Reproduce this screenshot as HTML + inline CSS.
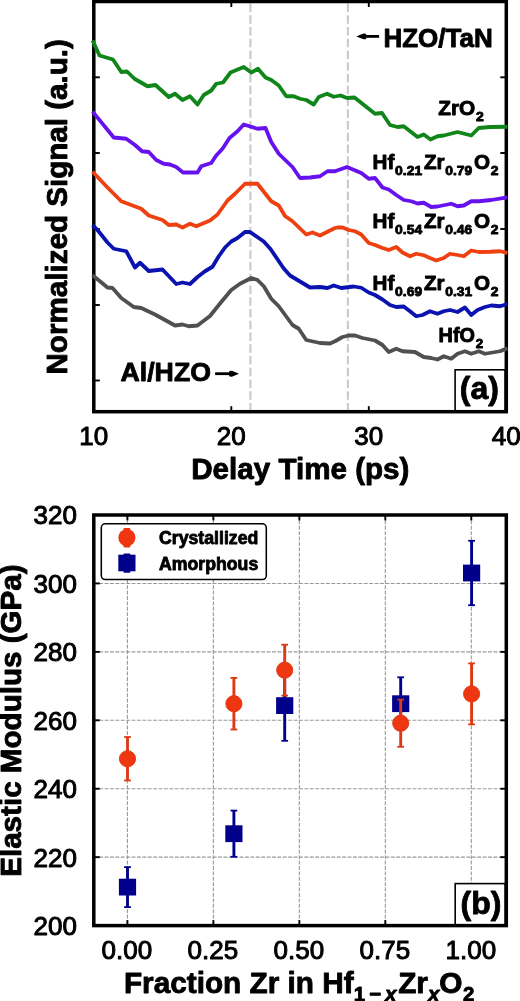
<!DOCTYPE html>
<html lang="en">
<head>
<meta charset="utf-8">
<title>Figure: normalized signal vs delay time and elastic modulus vs Zr fraction</title>
<style>
html,body{margin:0;padding:0;background:#fff;}
body{width:520px;height:1001px;overflow:hidden;}
svg{display:block;}
svg text{font-family:"Liberation Sans", sans-serif;fill:#000;stroke:#000;stroke-width:0.85px;stroke-linejoin:round;}
svg text.r{stroke-width:1.0px;}
</style>
</head>
<body>
<svg width="520" height="1001" viewBox="0 0 520 1001">
<rect x="0" y="0" width="520" height="1001" fill="#fff"/>
<g id="panel-a">
<line x1="250.4" y1="3.5" x2="250.4" y2="410" stroke="#cbcbcb" stroke-width="2.2" stroke-dasharray="8.45 3.3"/>
<line x1="347.9" y1="3.5" x2="347.9" y2="410" stroke="#cbcbcb" stroke-width="2.2" stroke-dasharray="8.45 3.3"/>
<line x1="93.8" y1="77.3" x2="99.8" y2="77.3" stroke="#000" stroke-width="1.9"/>
<line x1="506.3" y1="77.3" x2="500.3" y2="77.3" stroke="#000" stroke-width="1.9"/>
<line x1="93.8" y1="153.0" x2="99.8" y2="153.0" stroke="#000" stroke-width="1.9"/>
<line x1="506.3" y1="153.0" x2="500.3" y2="153.0" stroke="#000" stroke-width="1.9"/>
<line x1="93.8" y1="229.0" x2="99.8" y2="229.0" stroke="#000" stroke-width="1.9"/>
<line x1="506.3" y1="229.0" x2="500.3" y2="229.0" stroke="#000" stroke-width="1.9"/>
<line x1="93.8" y1="305.0" x2="99.8" y2="305.0" stroke="#000" stroke-width="1.9"/>
<line x1="506.3" y1="305.0" x2="500.3" y2="305.0" stroke="#000" stroke-width="1.9"/>
<line x1="93.8" y1="380.5" x2="99.8" y2="380.5" stroke="#000" stroke-width="1.9"/>
<line x1="506.3" y1="380.5" x2="500.3" y2="380.5" stroke="#000" stroke-width="1.9"/>
<line x1="231.3" y1="411.7" x2="231.3" y2="406.2" stroke="#000" stroke-width="1.9"/>
<line x1="231.3" y1="1.5" x2="231.3" y2="7.0" stroke="#000" stroke-width="1.9"/>
<line x1="368.8" y1="411.7" x2="368.8" y2="406.2" stroke="#000" stroke-width="1.9"/>
<line x1="368.8" y1="1.5" x2="368.8" y2="7.0" stroke="#000" stroke-width="1.9"/>
<rect x="455.1" y="369.8" width="50" height="41.8" fill="#fff" stroke="#000" stroke-width="1.6"/>
<rect x="93.8" y="1.5" width="412.5" height="410.2" fill="none" stroke="#000" stroke-width="3.5"/>
<polyline fill="none" stroke="#10851a" stroke-width="3.8" stroke-linejoin="round" stroke-linecap="butt" points="92.60,40.50 99.50,55.50 113.00,59.50 121.25,72.00 127.00,71.50 134.50,78.75 147.50,86.25 155.50,85.00 168.75,97.00 175.00,93.75 182.50,100.00 190.00,96.25 197.50,104.50 203.75,95.00 211.25,90.50 216.25,83.75 223.00,82.50 230.50,72.50 243.75,67.00 251.25,72.50 258.00,68.75 265.50,77.50 271.25,80.00 278.75,85.50 286.25,96.25 293.75,96.25 300.00,98.75 306.25,100.00 313.75,104.50 318.75,97.00 327.00,93.75 333.75,96.75 340.50,95.50 347.00,98.00 354.50,97.50 375.00,113.75 382.00,113.00 390.00,125.00 397.50,127.00 403.75,126.25 417.50,137.00 423.75,134.50 430.50,139.50 437.50,136.25 443.75,135.50 457.50,132.00 471.25,135.50 478.75,128.00 490.00,127.00 507.40,126.73"/>
<polyline fill="none" stroke="#6512ee" stroke-width="3.8" stroke-linejoin="round" stroke-linecap="butt" points="92.60,111.59 113.75,137.50 126.25,138.75 135.00,145.00 142.00,151.25 148.75,152.00 156.25,160.00 163.75,163.75 170.00,164.50 176.25,167.00 183.00,172.50 197.50,172.50 201.25,166.25 211.25,163.00 216.25,155.50 222.50,148.75 229.50,138.00 237.50,131.25 243.75,124.50 257.50,128.75 265.50,128.00 271.25,142.00 278.75,153.75 292.50,167.00 300.00,178.00 310.00,177.50 320.00,176.25 327.50,171.25 335.00,171.25 347.00,167.00 361.25,173.00 368.75,178.75 375.00,178.00 382.50,187.50 388.75,189.50 396.25,195.00 403.75,200.00 411.25,201.25 417.50,203.50 423.75,202.75 431.25,207.00 437.50,206.50 451.25,203.75 457.50,206.25 463.75,205.50 471.25,201.25 478.75,201.25 491.25,200.00 507.40,197.26"/>
<polyline fill="none" stroke="#ee4010" stroke-width="3.8" stroke-linejoin="round" stroke-linecap="butt" points="92.60,171.79 107.50,187.50 121.25,201.25 141.25,208.75 148.75,215.50 162.50,220.00 168.75,225.00 176.25,224.50 182.50,227.50 190.00,223.75 196.25,226.25 210.00,220.50 217.50,214.50 227.50,200.50 235.00,193.75 245.00,183.75 257.50,183.75 271.25,201.25 278.75,205.50 285.00,216.00 292.50,221.25 306.25,234.50 312.50,232.50 320.00,235.50 335.00,228.00 337.50,227.50 342.50,227.50 348.75,230.00 355.00,231.25 361.25,234.50 368.75,243.00 375.00,245.00 382.50,248.00 388.75,250.00 396.25,247.00 402.50,252.50 410.00,256.25 416.25,253.75 423.75,255.25 430.00,258.00 436.25,260.50 443.75,258.00 450.00,253.75 457.50,255.00 463.75,256.25 471.25,250.50 478.75,252.00 490.00,251.75 500.00,251.25 507.40,252.79"/>
<polyline fill="none" stroke="#0a12b0" stroke-width="3.8" stroke-linejoin="round" stroke-linecap="butt" points="92.60,225.10 97.50,230.00 107.50,242.50 113.75,248.75 126.25,251.25 135.00,267.50 140.00,262.75 148.75,271.00 162.50,269.50 176.25,284.00 182.50,282.50 190.00,284.00 197.50,277.00 205.00,271.25 212.50,266.75 218.75,256.25 225.00,247.50 231.25,241.50 237.50,238.00 245.00,232.00 250.00,232.00 263.75,241.50 270.50,249.00 283.75,268.50 290.00,275.50 303.75,283.75 310.00,287.50 320.00,287.00 327.50,288.00 333.75,285.50 341.25,288.00 353.75,286.50 361.25,287.75 368.75,292.50 375.00,295.00 382.50,299.50 390.00,305.00 396.25,307.00 403.75,306.50 410.00,311.25 416.25,316.25 422.50,315.00 430.00,311.25 437.50,313.75 443.75,311.25 450.00,310.00 457.50,312.00 465.00,307.50 471.25,315.00 477.50,310.00 485.00,307.00 491.25,305.50 500.00,306.25 507.40,304.09"/>
<polyline fill="none" stroke="#505050" stroke-width="3.8" stroke-linejoin="round" stroke-linecap="butt" points="92.60,275.31 107.50,287.50 112.50,288.00 121.25,298.00 133.75,307.00 141.25,308.00 155.00,314.50 175.00,325.50 182.50,324.50 188.75,326.25 197.50,325.50 210.00,316.00 221.25,302.00 231.25,290.00 240.00,283.75 251.25,278.00 257.50,280.00 263.75,286.25 271.25,298.75 278.75,306.25 292.50,325.00 298.75,328.75 306.25,340.00 320.00,343.00 330.00,343.50 335.00,341.25 342.50,337.00 348.75,335.50 355.00,335.50 362.50,338.00 375.00,340.50 382.50,345.00 388.75,352.00 396.25,348.75 402.50,351.25 415.00,352.00 423.75,357.00 431.25,358.00 437.50,359.50 443.75,356.25 451.25,358.75 457.50,353.75 465.00,351.25 471.25,353.75 478.75,351.25 485.00,353.75 492.50,352.50 500.00,351.25 507.40,348.17"/>
</g>
<text x="93.8" y="445.3" font-size="26" font-weight="normal" text-anchor="middle" class="r">10</text>
<text x="231.3" y="445.3" font-size="26" font-weight="normal" text-anchor="middle" class="r">20</text>
<text x="368.8" y="445.3" font-size="26" font-weight="normal" text-anchor="middle" class="r">30</text>
<text x="506.3" y="445.3" font-size="26" font-weight="normal" text-anchor="middle" class="r">40</text>
<text x="300.3" y="478.8" font-size="29.6" font-weight="bold" text-anchor="middle">Delay Time (ps)</text>
<text transform="translate(66.6,374.5) rotate(-90)" font-size="29.6" font-weight="bold">Normalized Signal (a.u.)</text>
<text x="383.4" y="47" font-size="26" font-weight="bold" text-anchor="start">HZO/TaN</text>
<text x="120.5" y="381.0" font-size="26.7" font-weight="bold" text-anchor="start">Al/HZO</text>
<g stroke="#000" stroke-width="2.8" fill="#000">
<line x1="364.5" y1="36.4" x2="379.1" y2="36.4"/><path d="M356.3 36.4 L362.8 33.7 Q365.6 33.2 366.3 34.4 L365.6 36.4 L366.3 38.4 Q365.6 39.6 362.8 39.1 Z" stroke="none"/>
<line x1="215.1" y1="373.7" x2="231" y2="373.7"/><path d="M239 373.7 L232.5 370.9 Q229.7 370.4 229 371.6 L229.7 373.7 L229 375.8 Q229.7 377 232.5 376.5 Z" stroke="none"/>
</g>
<text x="438.2" y="115.2" font-size="19.6" font-weight="bold" textLength="45.5" lengthAdjust="spacingAndGlyphs">ZrO<tspan dy="6.2" dx="0.7" font-size="13.2">2</tspan></text>
<text x="372.6" y="168.6" font-size="19.6" font-weight="bold" textLength="126" lengthAdjust="spacingAndGlyphs">Hf<tspan dy="6.2" dx="0.7" font-size="13.2">0.21</tspan><tspan dy="-6.2" dx="1.7">Zr</tspan><tspan dy="6.2" dx="0.7" font-size="13.2">0.79</tspan><tspan dy="-6.2" dx="1.7">O</tspan><tspan dy="6.2" dx="0.7" font-size="13.2">2</tspan></text>
<text x="372.6" y="228.1" font-size="19.6" font-weight="bold" textLength="126" lengthAdjust="spacingAndGlyphs">Hf<tspan dy="6.2" dx="0.7" font-size="13.2">0.54</tspan><tspan dy="-6.2" dx="1.7">Zr</tspan><tspan dy="6.2" dx="0.7" font-size="13.2">0.46</tspan><tspan dy="-6.2" dx="1.7">O</tspan><tspan dy="6.2" dx="0.7" font-size="13.2">2</tspan></text>
<text x="372.6" y="289.7" font-size="19.6" font-weight="bold" textLength="126" lengthAdjust="spacingAndGlyphs">Hf<tspan dy="6.2" dx="0.7" font-size="13.2">0.69</tspan><tspan dy="-6.2" dx="1.7">Zr</tspan><tspan dy="6.2" dx="0.7" font-size="13.2">0.31</tspan><tspan dy="-6.2" dx="1.7">O</tspan><tspan dy="6.2" dx="0.7" font-size="13.2">2</tspan></text>
<text x="438.6" y="342.2" font-size="19.6" font-weight="bold" textLength="44.5" lengthAdjust="spacingAndGlyphs">HfO<tspan dy="6.2" dx="0.7" font-size="13.2">2</tspan></text>
<text x="479.4" y="399.2" font-size="32" font-weight="bold" text-anchor="middle">(a)</text>
<g id="panel-b">
<line x1="127.40" y1="515.0" x2="127.40" y2="925.6" stroke="#999999" stroke-width="1.1" stroke-dasharray="3.9 1.5"/>
<line x1="213.38" y1="515.0" x2="213.38" y2="925.6" stroke="#999999" stroke-width="1.1" stroke-dasharray="3.9 1.5"/>
<line x1="299.35" y1="515.0" x2="299.35" y2="925.6" stroke="#999999" stroke-width="1.1" stroke-dasharray="3.9 1.5"/>
<line x1="385.32" y1="515.0" x2="385.32" y2="925.6" stroke="#999999" stroke-width="1.1" stroke-dasharray="3.9 1.5"/>
<line x1="471.30" y1="515.0" x2="471.30" y2="925.6" stroke="#999999" stroke-width="1.1" stroke-dasharray="3.9 1.5"/>
<line x1="93.8" y1="857.17" x2="506.3" y2="857.17" stroke="#999999" stroke-width="1.1" stroke-dasharray="3.9 1.5"/>
<line x1="93.8" y1="788.73" x2="506.3" y2="788.73" stroke="#999999" stroke-width="1.1" stroke-dasharray="3.9 1.5"/>
<line x1="93.8" y1="720.30" x2="506.3" y2="720.30" stroke="#999999" stroke-width="1.1" stroke-dasharray="3.9 1.5"/>
<line x1="93.8" y1="651.87" x2="506.3" y2="651.87" stroke="#999999" stroke-width="1.1" stroke-dasharray="3.9 1.5"/>
<line x1="93.8" y1="583.43" x2="506.3" y2="583.43" stroke="#999999" stroke-width="1.1" stroke-dasharray="3.9 1.5"/>
<line x1="127.50" y1="867.10" x2="127.50" y2="907.10" stroke="#00008b" stroke-width="2.9"/>
<line x1="124.10" y1="867.10" x2="130.90" y2="867.10" stroke="#00008b" stroke-width="1.8"/>
<line x1="124.10" y1="907.10" x2="130.90" y2="907.10" stroke="#00008b" stroke-width="1.8"/>
<rect x="118.90" y="878.70" width="17.2" height="16.8" fill="#00008b"/>
<line x1="233.90" y1="810.60" x2="233.90" y2="856.80" stroke="#00008b" stroke-width="2.9"/>
<line x1="230.50" y1="810.60" x2="237.30" y2="810.60" stroke="#00008b" stroke-width="1.8"/>
<line x1="230.50" y1="856.80" x2="237.30" y2="856.80" stroke="#00008b" stroke-width="1.8"/>
<rect x="225.30" y="825.30" width="17.2" height="16.8" fill="#00008b"/>
<line x1="284.70" y1="670.40" x2="284.70" y2="740.80" stroke="#00008b" stroke-width="2.9"/>
<line x1="281.30" y1="670.40" x2="288.10" y2="670.40" stroke="#00008b" stroke-width="1.8"/>
<line x1="281.30" y1="740.80" x2="288.10" y2="740.80" stroke="#00008b" stroke-width="1.8"/>
<rect x="276.10" y="697.20" width="17.2" height="16.8" fill="#00008b"/>
<line x1="400.70" y1="677.30" x2="400.70" y2="730.10" stroke="#00008b" stroke-width="2.9"/>
<line x1="397.30" y1="677.30" x2="404.10" y2="677.30" stroke="#00008b" stroke-width="1.8"/>
<line x1="397.30" y1="730.10" x2="404.10" y2="730.10" stroke="#00008b" stroke-width="1.8"/>
<rect x="392.10" y="695.30" width="17.2" height="16.8" fill="#00008b"/>
<line x1="471.60" y1="540.80" x2="471.60" y2="605.20" stroke="#00008b" stroke-width="2.9"/>
<line x1="468.20" y1="540.80" x2="475.00" y2="540.80" stroke="#00008b" stroke-width="1.8"/>
<line x1="468.20" y1="605.20" x2="475.00" y2="605.20" stroke="#00008b" stroke-width="1.8"/>
<rect x="463.00" y="564.60" width="17.2" height="16.8" fill="#00008b"/>
<line x1="127.50" y1="737.05" x2="127.50" y2="780.45" stroke="#dc3a14" stroke-width="2.9"/>
<line x1="124.10" y1="737.05" x2="130.90" y2="737.05" stroke="#dc3a14" stroke-width="1.8"/>
<line x1="124.10" y1="780.45" x2="130.90" y2="780.45" stroke="#dc3a14" stroke-width="1.8"/>
<circle cx="127.50" cy="758.75" r="8.1" fill="#ee3610" stroke="#dc3a14" stroke-width="0.9"/>
<line x1="233.90" y1="677.90" x2="233.90" y2="729.50" stroke="#dc3a14" stroke-width="2.9"/>
<line x1="230.50" y1="677.90" x2="237.30" y2="677.90" stroke="#dc3a14" stroke-width="1.8"/>
<line x1="230.50" y1="729.50" x2="237.30" y2="729.50" stroke="#dc3a14" stroke-width="1.8"/>
<circle cx="233.90" cy="703.70" r="8.1" fill="#ee3610" stroke="#dc3a14" stroke-width="0.9"/>
<line x1="284.70" y1="644.70" x2="284.70" y2="695.60" stroke="#dc3a14" stroke-width="2.9"/>
<line x1="281.30" y1="644.70" x2="288.10" y2="644.70" stroke="#dc3a14" stroke-width="1.8"/>
<line x1="281.30" y1="695.60" x2="288.10" y2="695.60" stroke="#dc3a14" stroke-width="1.8"/>
<circle cx="284.70" cy="670.15" r="8.1" fill="#ee3610" stroke="#dc3a14" stroke-width="0.9"/>
<line x1="400.70" y1="699.60" x2="400.70" y2="746.80" stroke="#dc3a14" stroke-width="2.9"/>
<line x1="397.30" y1="699.60" x2="404.10" y2="699.60" stroke="#dc3a14" stroke-width="1.8"/>
<line x1="397.30" y1="746.80" x2="404.10" y2="746.80" stroke="#dc3a14" stroke-width="1.8"/>
<circle cx="400.70" cy="723.20" r="8.1" fill="#ee3610" stroke="#dc3a14" stroke-width="0.9"/>
<line x1="471.60" y1="663.40" x2="471.60" y2="724.40" stroke="#dc3a14" stroke-width="2.9"/>
<line x1="468.20" y1="663.40" x2="475.00" y2="663.40" stroke="#dc3a14" stroke-width="1.8"/>
<line x1="468.20" y1="724.40" x2="475.00" y2="724.40" stroke="#dc3a14" stroke-width="1.8"/>
<circle cx="471.60" cy="693.90" r="8.1" fill="#ee3610" stroke="#dc3a14" stroke-width="0.9"/>
<rect x="101.3" y="523.8" width="165" height="55.7" rx="4" ry="4" fill="#fff" stroke="#000" stroke-width="1.55"/>
<rect x="123.5" y="528" width="6.8" height="19.4" rx="0.8" fill="#ee3610"/><circle cx="126.9" cy="537.6" r="8.6" fill="#ee3610"/>
<rect x="123.5" y="553.4" width="6.8" height="19.4" rx="0.8" fill="#00008b"/><rect x="118.3" y="554.7" width="17.2" height="16.6" fill="#00008b"/>
<line x1="127.40" y1="925.6" x2="127.40" y2="920.1" stroke="#000" stroke-width="1.9"/>
<line x1="127.40" y1="515.0" x2="127.40" y2="520.5" stroke="#000" stroke-width="1.9"/>
<line x1="213.38" y1="925.6" x2="213.38" y2="920.1" stroke="#000" stroke-width="1.9"/>
<line x1="213.38" y1="515.0" x2="213.38" y2="520.5" stroke="#000" stroke-width="1.9"/>
<line x1="299.35" y1="925.6" x2="299.35" y2="920.1" stroke="#000" stroke-width="1.9"/>
<line x1="299.35" y1="515.0" x2="299.35" y2="520.5" stroke="#000" stroke-width="1.9"/>
<line x1="385.32" y1="925.6" x2="385.32" y2="920.1" stroke="#000" stroke-width="1.9"/>
<line x1="385.32" y1="515.0" x2="385.32" y2="520.5" stroke="#000" stroke-width="1.9"/>
<line x1="471.30" y1="925.6" x2="471.30" y2="920.1" stroke="#000" stroke-width="1.9"/>
<line x1="471.30" y1="515.0" x2="471.30" y2="520.5" stroke="#000" stroke-width="1.9"/>
<line x1="93.8" y1="857.17" x2="99.8" y2="857.17" stroke="#000" stroke-width="1.9"/>
<line x1="506.3" y1="857.17" x2="500.3" y2="857.17" stroke="#000" stroke-width="1.9"/>
<line x1="93.8" y1="788.73" x2="99.8" y2="788.73" stroke="#000" stroke-width="1.9"/>
<line x1="506.3" y1="788.73" x2="500.3" y2="788.73" stroke="#000" stroke-width="1.9"/>
<line x1="93.8" y1="720.30" x2="99.8" y2="720.30" stroke="#000" stroke-width="1.9"/>
<line x1="506.3" y1="720.30" x2="500.3" y2="720.30" stroke="#000" stroke-width="1.9"/>
<line x1="93.8" y1="651.87" x2="99.8" y2="651.87" stroke="#000" stroke-width="1.9"/>
<line x1="506.3" y1="651.87" x2="500.3" y2="651.87" stroke="#000" stroke-width="1.9"/>
<line x1="93.8" y1="583.43" x2="99.8" y2="583.43" stroke="#000" stroke-width="1.9"/>
<line x1="506.3" y1="583.43" x2="500.3" y2="583.43" stroke="#000" stroke-width="1.9"/>
<rect x="455.2" y="883.6" width="50" height="42" fill="#fff" stroke="#000" stroke-width="1.6"/>
<rect x="93.8" y="515.0" width="412.5" height="410.6" fill="none" stroke="#000" stroke-width="3.5"/>
</g>
<text x="159.0" y="543.8" font-size="17.7" font-weight="bold" text-anchor="start">Crystallized</text>
<text x="159.0" y="569.6" font-size="17.7" font-weight="bold" text-anchor="start">Amorphous</text>
<text x="481.0" y="913.8" font-size="32" font-weight="bold" text-anchor="middle">(b)</text>
<text x="77.0" y="935.0" font-size="26" font-weight="normal" text-anchor="end" class="r">200</text>
<text x="77.0" y="866.6" font-size="26" font-weight="normal" text-anchor="end" class="r">220</text>
<text x="77.0" y="798.1" font-size="26" font-weight="normal" text-anchor="end" class="r">240</text>
<text x="77.0" y="729.7" font-size="26" font-weight="normal" text-anchor="end" class="r">260</text>
<text x="77.0" y="661.3" font-size="26" font-weight="normal" text-anchor="end" class="r">280</text>
<text x="77.0" y="592.8" font-size="26" font-weight="normal" text-anchor="end" class="r">300</text>
<text x="77.0" y="524.4" font-size="26" font-weight="normal" text-anchor="end" class="r">320</text>
<text x="126.9" y="959.3" font-size="26" font-weight="normal" text-anchor="middle" class="r">0.00</text>
<text x="212.9" y="959.3" font-size="26" font-weight="normal" text-anchor="middle" class="r">0.25</text>
<text x="298.9" y="959.3" font-size="26" font-weight="normal" text-anchor="middle" class="r">0.50</text>
<text x="384.8" y="959.3" font-size="26" font-weight="normal" text-anchor="middle" class="r">0.75</text>
<text x="470.8" y="959.3" font-size="26" font-weight="normal" text-anchor="middle" class="r">1.00</text>
<text x="123.9" y="992.6" font-size="29.75" font-weight="bold">Fraction Zr in Hf<tspan dy="8.6" font-size="20.5">1<tspan dx="4.2">−</tspan><tspan dx="3.8" font-style="italic">x</tspan></tspan><tspan dy="-8.6" dx="1.7">Zr</tspan><tspan dy="8.6" font-size="20.5" font-style="italic">x</tspan><tspan dy="-8.6">O</tspan><tspan dy="8.6" dx="0.6" font-size="20.5">2</tspan></text>
<text transform="translate(20.9,876.8) rotate(-90)" font-size="29.6" font-weight="bold">Elastic Modulus (GPa)</text>
</svg>
</body>
</html>
